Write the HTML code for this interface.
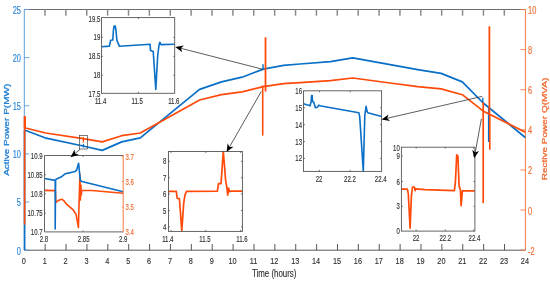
<!DOCTYPE html>
<html><head><meta charset="utf-8"><title>Active and reactive power</title>
<style>
html,body{margin:0;padding:0;background:#fff;}
body{width:550px;height:282px;overflow:hidden;}
svg{display:block;font-family:"Liberation Sans",Arial,Helvetica,sans-serif;}
</style></head><body>
<svg width="550" height="282" viewBox="0 0 550 282">
<rect width="550" height="282" fill="#fff"/>
<line x1="24.30" y1="9.50" x2="525.40" y2="9.50" stroke="#6c6c6c" stroke-width="1.1"/>
<line x1="24.30" y1="250.20" x2="525.40" y2="250.20" stroke="#444" stroke-width="0.9"/>
<text transform="translate(23.80,263.50) scale(0.77,1)" font-size="9.5" fill="#303030" stroke="#303030" stroke-width="0.15" text-anchor="middle" >0</text>
<line x1="45.18" y1="250.20" x2="45.18" y2="244.00" stroke="#444" stroke-width="0.9"/>
<line x1="44.98" y1="9.50" x2="44.98" y2="15.70" stroke="#8a8a8a" stroke-width="1.5"/>
<text transform="translate(44.68,263.50) scale(0.77,1)" font-size="9.5" fill="#303030" stroke="#303030" stroke-width="0.15" text-anchor="middle" >1</text>
<line x1="66.06" y1="250.20" x2="66.06" y2="244.00" stroke="#444" stroke-width="0.9"/>
<line x1="65.86" y1="9.50" x2="65.86" y2="15.70" stroke="#8a8a8a" stroke-width="1.5"/>
<text transform="translate(65.56,263.50) scale(0.77,1)" font-size="9.5" fill="#303030" stroke="#303030" stroke-width="0.15" text-anchor="middle" >2</text>
<line x1="86.94" y1="250.20" x2="86.94" y2="244.00" stroke="#444" stroke-width="0.9"/>
<line x1="86.74" y1="9.50" x2="86.74" y2="15.70" stroke="#8a8a8a" stroke-width="1.5"/>
<text transform="translate(86.44,263.50) scale(0.77,1)" font-size="9.5" fill="#303030" stroke="#303030" stroke-width="0.15" text-anchor="middle" >3</text>
<line x1="107.82" y1="250.20" x2="107.82" y2="244.00" stroke="#444" stroke-width="0.9"/>
<line x1="107.62" y1="9.50" x2="107.62" y2="15.70" stroke="#8a8a8a" stroke-width="1.5"/>
<text transform="translate(107.32,263.50) scale(0.77,1)" font-size="9.5" fill="#303030" stroke="#303030" stroke-width="0.15" text-anchor="middle" >4</text>
<line x1="128.70" y1="250.20" x2="128.70" y2="244.00" stroke="#444" stroke-width="0.9"/>
<line x1="128.50" y1="9.50" x2="128.50" y2="15.70" stroke="#8a8a8a" stroke-width="1.5"/>
<text transform="translate(128.20,263.50) scale(0.77,1)" font-size="9.5" fill="#303030" stroke="#303030" stroke-width="0.15" text-anchor="middle" >5</text>
<line x1="149.57" y1="250.20" x2="149.57" y2="244.00" stroke="#444" stroke-width="0.9"/>
<line x1="149.38" y1="9.50" x2="149.38" y2="15.70" stroke="#8a8a8a" stroke-width="1.5"/>
<text transform="translate(149.07,263.50) scale(0.77,1)" font-size="9.5" fill="#303030" stroke="#303030" stroke-width="0.15" text-anchor="middle" >6</text>
<line x1="170.45" y1="250.20" x2="170.45" y2="244.00" stroke="#444" stroke-width="0.9"/>
<line x1="170.25" y1="9.50" x2="170.25" y2="15.70" stroke="#8a8a8a" stroke-width="1.5"/>
<text transform="translate(169.95,263.50) scale(0.77,1)" font-size="9.5" fill="#303030" stroke="#303030" stroke-width="0.15" text-anchor="middle" >7</text>
<line x1="191.33" y1="250.20" x2="191.33" y2="244.00" stroke="#444" stroke-width="0.9"/>
<line x1="191.13" y1="9.50" x2="191.13" y2="15.70" stroke="#8a8a8a" stroke-width="1.5"/>
<text transform="translate(190.83,263.50) scale(0.77,1)" font-size="9.5" fill="#303030" stroke="#303030" stroke-width="0.15" text-anchor="middle" >8</text>
<line x1="212.21" y1="250.20" x2="212.21" y2="244.00" stroke="#444" stroke-width="0.9"/>
<line x1="212.01" y1="9.50" x2="212.01" y2="15.70" stroke="#8a8a8a" stroke-width="1.5"/>
<text transform="translate(211.71,263.50) scale(0.77,1)" font-size="9.5" fill="#303030" stroke="#303030" stroke-width="0.15" text-anchor="middle" >9</text>
<line x1="233.09" y1="250.20" x2="233.09" y2="244.00" stroke="#444" stroke-width="0.9"/>
<line x1="232.89" y1="9.50" x2="232.89" y2="15.70" stroke="#8a8a8a" stroke-width="1.5"/>
<text transform="translate(232.59,263.50) scale(0.77,1)" font-size="9.5" fill="#303030" stroke="#303030" stroke-width="0.15" text-anchor="middle" >10</text>
<line x1="253.97" y1="250.20" x2="253.97" y2="244.00" stroke="#444" stroke-width="0.9"/>
<line x1="253.77" y1="9.50" x2="253.77" y2="15.70" stroke="#8a8a8a" stroke-width="1.5"/>
<text transform="translate(253.47,263.50) scale(0.77,1)" font-size="9.5" fill="#303030" stroke="#303030" stroke-width="0.15" text-anchor="middle" >11</text>
<line x1="274.85" y1="250.20" x2="274.85" y2="244.00" stroke="#444" stroke-width="0.9"/>
<line x1="274.65" y1="9.50" x2="274.65" y2="15.70" stroke="#8a8a8a" stroke-width="1.5"/>
<text transform="translate(274.35,263.50) scale(0.77,1)" font-size="9.5" fill="#303030" stroke="#303030" stroke-width="0.15" text-anchor="middle" >12</text>
<line x1="295.73" y1="250.20" x2="295.73" y2="244.00" stroke="#444" stroke-width="0.9"/>
<line x1="295.53" y1="9.50" x2="295.53" y2="15.70" stroke="#8a8a8a" stroke-width="1.5"/>
<text transform="translate(295.23,263.50) scale(0.77,1)" font-size="9.5" fill="#303030" stroke="#303030" stroke-width="0.15" text-anchor="middle" >13</text>
<line x1="316.61" y1="250.20" x2="316.61" y2="244.00" stroke="#444" stroke-width="0.9"/>
<line x1="316.41" y1="9.50" x2="316.41" y2="15.70" stroke="#8a8a8a" stroke-width="1.5"/>
<text transform="translate(316.11,263.50) scale(0.77,1)" font-size="9.5" fill="#303030" stroke="#303030" stroke-width="0.15" text-anchor="middle" >14</text>
<line x1="337.49" y1="250.20" x2="337.49" y2="244.00" stroke="#444" stroke-width="0.9"/>
<line x1="337.29" y1="9.50" x2="337.29" y2="15.70" stroke="#8a8a8a" stroke-width="1.5"/>
<text transform="translate(336.99,263.50) scale(0.77,1)" font-size="9.5" fill="#303030" stroke="#303030" stroke-width="0.15" text-anchor="middle" >15</text>
<line x1="358.37" y1="250.20" x2="358.37" y2="244.00" stroke="#444" stroke-width="0.9"/>
<line x1="358.17" y1="9.50" x2="358.17" y2="15.70" stroke="#8a8a8a" stroke-width="1.5"/>
<text transform="translate(357.87,263.50) scale(0.77,1)" font-size="9.5" fill="#303030" stroke="#303030" stroke-width="0.15" text-anchor="middle" >16</text>
<line x1="379.25" y1="250.20" x2="379.25" y2="244.00" stroke="#444" stroke-width="0.9"/>
<line x1="379.05" y1="9.50" x2="379.05" y2="15.70" stroke="#8a8a8a" stroke-width="1.5"/>
<text transform="translate(378.75,263.50) scale(0.77,1)" font-size="9.5" fill="#303030" stroke="#303030" stroke-width="0.15" text-anchor="middle" >17</text>
<line x1="400.12" y1="250.20" x2="400.12" y2="244.00" stroke="#444" stroke-width="0.9"/>
<line x1="399.93" y1="9.50" x2="399.93" y2="15.70" stroke="#8a8a8a" stroke-width="1.5"/>
<text transform="translate(399.62,263.50) scale(0.77,1)" font-size="9.5" fill="#303030" stroke="#303030" stroke-width="0.15" text-anchor="middle" >18</text>
<line x1="421.00" y1="250.20" x2="421.00" y2="244.00" stroke="#444" stroke-width="0.9"/>
<line x1="420.80" y1="9.50" x2="420.80" y2="15.70" stroke="#8a8a8a" stroke-width="1.5"/>
<text transform="translate(420.50,263.50) scale(0.77,1)" font-size="9.5" fill="#303030" stroke="#303030" stroke-width="0.15" text-anchor="middle" >19</text>
<line x1="441.88" y1="250.20" x2="441.88" y2="244.00" stroke="#444" stroke-width="0.9"/>
<line x1="441.68" y1="9.50" x2="441.68" y2="15.70" stroke="#8a8a8a" stroke-width="1.5"/>
<text transform="translate(441.38,263.50) scale(0.77,1)" font-size="9.5" fill="#303030" stroke="#303030" stroke-width="0.15" text-anchor="middle" >20</text>
<line x1="462.76" y1="250.20" x2="462.76" y2="244.00" stroke="#444" stroke-width="0.9"/>
<line x1="462.56" y1="9.50" x2="462.56" y2="15.70" stroke="#8a8a8a" stroke-width="1.5"/>
<text transform="translate(462.26,263.50) scale(0.77,1)" font-size="9.5" fill="#303030" stroke="#303030" stroke-width="0.15" text-anchor="middle" >21</text>
<line x1="483.64" y1="250.20" x2="483.64" y2="244.00" stroke="#444" stroke-width="0.9"/>
<line x1="483.44" y1="9.50" x2="483.44" y2="15.70" stroke="#8a8a8a" stroke-width="1.5"/>
<text transform="translate(483.14,263.50) scale(0.77,1)" font-size="9.5" fill="#303030" stroke="#303030" stroke-width="0.15" text-anchor="middle" >22</text>
<line x1="504.52" y1="250.20" x2="504.52" y2="244.00" stroke="#444" stroke-width="0.9"/>
<line x1="504.32" y1="9.50" x2="504.32" y2="15.70" stroke="#8a8a8a" stroke-width="1.5"/>
<text transform="translate(504.02,263.50) scale(0.77,1)" font-size="9.5" fill="#303030" stroke="#303030" stroke-width="0.15" text-anchor="middle" >23</text>
<text transform="translate(524.90,263.50) scale(0.77,1)" font-size="9.5" fill="#303030" stroke="#303030" stroke-width="0.15" text-anchor="middle" >24</text>
<line x1="24.30" y1="9.50" x2="24.30" y2="250.20" stroke="#589ee0" stroke-width="1.0"/>
<line x1="24.30" y1="250.20" x2="29.30" y2="250.20" stroke="#589ee0" stroke-width="0.9"/>
<text transform="translate(21.00,254.60) scale(0.73,1)" font-size="10.2" fill="#2a86d8" stroke="#2a86d8" stroke-width="0.15" text-anchor="end" >0</text>
<line x1="24.30" y1="202.06" x2="29.30" y2="202.06" stroke="#589ee0" stroke-width="0.9"/>
<text transform="translate(21.00,206.46) scale(0.73,1)" font-size="10.2" fill="#2a86d8" stroke="#2a86d8" stroke-width="0.15" text-anchor="end" >5</text>
<line x1="24.30" y1="153.92" x2="29.30" y2="153.92" stroke="#589ee0" stroke-width="0.9"/>
<text transform="translate(21.00,158.32) scale(0.73,1)" font-size="10.2" fill="#2a86d8" stroke="#2a86d8" stroke-width="0.15" text-anchor="end" >10</text>
<line x1="24.30" y1="105.78" x2="29.30" y2="105.78" stroke="#589ee0" stroke-width="0.9"/>
<text transform="translate(21.00,110.18) scale(0.73,1)" font-size="10.2" fill="#2a86d8" stroke="#2a86d8" stroke-width="0.15" text-anchor="end" >15</text>
<line x1="24.30" y1="57.64" x2="29.30" y2="57.64" stroke="#589ee0" stroke-width="0.9"/>
<text transform="translate(21.00,62.04) scale(0.73,1)" font-size="10.2" fill="#2a86d8" stroke="#2a86d8" stroke-width="0.15" text-anchor="end" >20</text>
<line x1="24.30" y1="9.50" x2="29.30" y2="9.50" stroke="#589ee0" stroke-width="0.9"/>
<text transform="translate(21.00,13.90) scale(0.73,1)" font-size="10.2" fill="#2a86d8" stroke="#2a86d8" stroke-width="0.15" text-anchor="end" >25</text>
<line x1="525.40" y1="9.50" x2="525.40" y2="250.20" stroke="#f47a45" stroke-width="1.0"/>
<line x1="520.40" y1="250.20" x2="525.40" y2="250.20" stroke="#f47a45" stroke-width="0.9"/>
<text transform="translate(528.00,254.70) scale(0.73,1)" font-size="10.2" fill="#f26a2e" stroke="#f26a2e" stroke-width="0.15" text-anchor="start" >-2</text>
<line x1="520.40" y1="210.08" x2="525.40" y2="210.08" stroke="#f47a45" stroke-width="0.9"/>
<text transform="translate(528.00,214.58) scale(0.73,1)" font-size="10.2" fill="#f26a2e" stroke="#f26a2e" stroke-width="0.15" text-anchor="start" >0</text>
<line x1="520.40" y1="169.97" x2="525.40" y2="169.97" stroke="#f47a45" stroke-width="0.9"/>
<text transform="translate(528.00,174.47) scale(0.73,1)" font-size="10.2" fill="#f26a2e" stroke="#f26a2e" stroke-width="0.15" text-anchor="start" >2</text>
<line x1="520.40" y1="129.85" x2="525.40" y2="129.85" stroke="#f47a45" stroke-width="0.9"/>
<text transform="translate(528.00,134.35) scale(0.73,1)" font-size="10.2" fill="#f26a2e" stroke="#f26a2e" stroke-width="0.15" text-anchor="start" >4</text>
<line x1="520.40" y1="89.73" x2="525.40" y2="89.73" stroke="#f47a45" stroke-width="0.9"/>
<text transform="translate(528.00,94.23) scale(0.73,1)" font-size="10.2" fill="#f26a2e" stroke="#f26a2e" stroke-width="0.15" text-anchor="start" >6</text>
<line x1="520.40" y1="49.62" x2="525.40" y2="49.62" stroke="#f47a45" stroke-width="0.9"/>
<text transform="translate(528.00,54.12) scale(0.73,1)" font-size="10.2" fill="#f26a2e" stroke="#f26a2e" stroke-width="0.15" text-anchor="start" >8</text>
<line x1="520.40" y1="9.50" x2="525.40" y2="9.50" stroke="#f47a45" stroke-width="0.9"/>
<text transform="translate(528.00,14.00) scale(0.73,1)" font-size="10.2" fill="#f26a2e" stroke="#f26a2e" stroke-width="0.15" text-anchor="start" >10</text>
<text transform="translate(274.20,277.00) scale(0.79,1)" font-size="10" fill="#303030" stroke="#303030" stroke-width="0.15" text-anchor="middle" >Time (hours)</text>
<text transform="translate(9.4,129.8) scale(0.8,1) rotate(-90)" font-size="10" fill="#1f7fd4" stroke="#1f7fd4" stroke-width="0.35" text-anchor="middle">Active Power P(MW)</text>
<text transform="translate(547.0,129.0) scale(0.8,1) rotate(-90)" font-size="10" fill="#f26a2e" stroke="#f26a2e" stroke-width="0.35" text-anchor="middle">Rective Power Q(MVA)</text>
<polyline points="24.5,130.0 44.9,137.8 83.0,146.0 102.2,150.4 121.7,141.9 140.3,137.8 199.6,89.4 221.5,81.9 242.1,77.2 263.4,69.1 283.6,65.3 300.0,64.0 330.4,61.6 352.8,57.8 417.7,69.6 441.1,73.4 462.3,81.9 483.2,103.0 525.3,137.5" fill="none" stroke="#0a6fc6" stroke-width="1.7" stroke-linejoin="round" stroke-linecap="butt" />
<polyline points="24.6,250.0 24.6,130.0" fill="none" stroke="#0a6fc6" stroke-width="1.7" stroke-linejoin="round" stroke-linecap="butt" />
<polyline points="263.0,69.3 263.0,64.2" fill="none" stroke="#0a6fc6" stroke-width="1.4" stroke-linejoin="round" stroke-linecap="butt" />
<polyline points="482.8,103.0 482.8,97.8" fill="none" stroke="#0a6fc6" stroke-width="1.4" stroke-linejoin="round" stroke-linecap="butt" />
<polyline points="488.6,107.0 488.6,142.0" fill="none" stroke="#0a6fc6" stroke-width="1.4" stroke-linejoin="round" stroke-linecap="butt" />
<polyline points="83.4,144.0 83.4,147.5" fill="none" stroke="#0a6fc6" stroke-width="1.2" stroke-linejoin="round" stroke-linecap="butt" />
<polyline points="24.5,127.7 45.7,133.0 83.0,138.7 102.2,141.9 121.7,135.7 140.3,133.0 199.6,100.0 221.5,94.7 242.1,91.9 263.4,86.6 283.6,83.6 300.0,82.6 330.4,80.7 352.8,78.0 390.0,83.0 417.7,86.6 441.1,88.9 462.3,94.7 483.0,110.9 525.3,132.2" fill="none" stroke="#ff4a0a" stroke-width="1.7" stroke-linejoin="round" stroke-linecap="butt" />
<polyline points="24.6,116.0 24.6,224.6" fill="none" stroke="#ff4a0a" stroke-width="1.6" stroke-linejoin="round" stroke-linecap="butt" />
<polyline points="24.9,116.5 24.9,128.0" fill="none" stroke="#ff4a0a" stroke-width="2.2" stroke-linejoin="round" stroke-linecap="butt" />
<polyline points="262.7,85.5 262.7,135.6" fill="none" stroke="#ff4a0a" stroke-width="1.6" stroke-linejoin="round" stroke-linecap="butt" />
<polyline points="265.5,91.5 265.5,37.3" fill="none" stroke="#ff4a0a" stroke-width="1.8" stroke-linejoin="round" stroke-linecap="butt" />
<polyline points="483.2,102.2 483.2,203.1" fill="none" stroke="#ff4a0a" stroke-width="1.7" stroke-linejoin="round" stroke-linecap="butt" />
<polyline points="489.4,115.0 489.4,26.3" fill="none" stroke="#ff4a0a" stroke-width="1.8" stroke-linejoin="round" stroke-linecap="butt" />
<polyline points="489.8,115.0 489.8,149.8" fill="none" stroke="#ff4a0a" stroke-width="1.6" stroke-linejoin="round" stroke-linecap="butt" />
<polyline points="83.4,136.9 83.4,142.5" fill="none" stroke="#ff4a0a" stroke-width="1.2" stroke-linejoin="round" stroke-linecap="butt" />
<rect x="79.4" y="135.4" width="8.2" height="13.6" fill="none" stroke="#444" stroke-width="0.7"/>
<rect x="101.5" y="17.6" width="73.2" height="75.7" fill="#fff"/>
<polyline points="101.5,46.7 109.4,46.1 110.6,40.3 112.8,40.0 113.5,29.5 114.2,26.0 115.2,26.0 115.9,29.5 116.9,40.3 117.8,42.7 119.5,46.3 150.1,44.3 150.5,50.4 153.2,51.4 155.8,89.4 157.7,55.5 159.0,45.3 159.8,42.2 161.0,44.6 174.5,44.2" fill="none" stroke="#0a6fc6" stroke-width="1.6" stroke-linejoin="round" stroke-linecap="butt" />
<rect x="101.5" y="17.6" width="73.20" height="75.70" fill="none" stroke="#555" stroke-width="0.9"/>
<line x1="138.40" y1="93.30" x2="138.40" y2="91.80" stroke="#555" stroke-width="0.8"/>
<line x1="138.40" y1="17.60" x2="138.40" y2="19.10" stroke="#555" stroke-width="0.8"/>
<line x1="101.50" y1="37.30" x2="103.00" y2="37.30" stroke="#555" stroke-width="0.8"/>
<line x1="174.70" y1="37.30" x2="173.20" y2="37.30" stroke="#555" stroke-width="0.8"/>
<line x1="101.50" y1="56.30" x2="103.00" y2="56.30" stroke="#555" stroke-width="0.8"/>
<line x1="174.70" y1="56.30" x2="173.20" y2="56.30" stroke="#555" stroke-width="0.8"/>
<line x1="101.50" y1="75.20" x2="103.00" y2="75.20" stroke="#555" stroke-width="0.8"/>
<line x1="174.70" y1="75.20" x2="173.20" y2="75.20" stroke="#555" stroke-width="0.8"/>
<text transform="translate(100.30,21.50) scale(0.71,1)" font-size="8.5" fill="#303030" stroke="#303030" stroke-width="0.15" text-anchor="end" >19.5</text>
<text transform="translate(100.30,40.30) scale(0.71,1)" font-size="8.5" fill="#303030" stroke="#303030" stroke-width="0.15" text-anchor="end" >19</text>
<text transform="translate(100.30,59.30) scale(0.71,1)" font-size="8.5" fill="#303030" stroke="#303030" stroke-width="0.15" text-anchor="end" >18.5</text>
<text transform="translate(100.30,78.20) scale(0.71,1)" font-size="8.5" fill="#303030" stroke="#303030" stroke-width="0.15" text-anchor="end" >18</text>
<text transform="translate(100.30,96.50) scale(0.71,1)" font-size="8.5" fill="#303030" stroke="#303030" stroke-width="0.15" text-anchor="end" >17.5</text>
<text transform="translate(100.60,103.90) scale(0.71,1)" font-size="8.5" fill="#303030" stroke="#303030" stroke-width="0.15" text-anchor="middle" >11.4</text>
<text transform="translate(137.20,103.90) scale(0.71,1)" font-size="8.5" fill="#303030" stroke="#303030" stroke-width="0.15" text-anchor="middle" >11.5</text>
<text transform="translate(173.80,103.90) scale(0.71,1)" font-size="8.5" fill="#303030" stroke="#303030" stroke-width="0.15" text-anchor="middle" >11.6</text>
<rect x="168.5" y="151.5" width="74" height="79.9" fill="#fff"/>
<polyline points="168.5,191.3 176.3,191.3 177.2,198.5 179.4,198.5 181.8,230.7 183.7,203.1 185.0,194.8 186.5,191.3 217.4,191.2 218.5,183.7 221.0,183.7 223.3,151.5 224.5,166.0 225.6,180.1 226.8,187.2 227.7,195.2 228.6,188.1 229.5,191.7 230.2,191.2 242.4,191.2" fill="none" stroke="#ff4a0a" stroke-width="1.7" stroke-linejoin="round" stroke-linecap="butt" />
<rect x="168.5" y="151.5" width="73.90" height="79.90" fill="none" stroke="#555" stroke-width="0.9"/>
<line x1="171.10" y1="231.40" x2="171.10" y2="229.90" stroke="#555" stroke-width="0.8"/>
<line x1="171.10" y1="151.50" x2="171.10" y2="153.00" stroke="#555" stroke-width="0.8"/>
<line x1="205.80" y1="231.40" x2="205.80" y2="229.90" stroke="#555" stroke-width="0.8"/>
<line x1="205.80" y1="151.50" x2="205.80" y2="153.00" stroke="#555" stroke-width="0.8"/>
<line x1="240.60" y1="231.40" x2="240.60" y2="229.90" stroke="#555" stroke-width="0.8"/>
<line x1="240.60" y1="151.50" x2="240.60" y2="153.00" stroke="#555" stroke-width="0.8"/>
<line x1="168.50" y1="161.30" x2="170.00" y2="161.30" stroke="#555" stroke-width="0.8"/>
<line x1="242.40" y1="161.30" x2="240.90" y2="161.30" stroke="#555" stroke-width="0.8"/>
<line x1="168.50" y1="177.70" x2="170.00" y2="177.70" stroke="#555" stroke-width="0.8"/>
<line x1="242.40" y1="177.70" x2="240.90" y2="177.70" stroke="#555" stroke-width="0.8"/>
<line x1="168.50" y1="194.00" x2="170.00" y2="194.00" stroke="#555" stroke-width="0.8"/>
<line x1="242.40" y1="194.00" x2="240.90" y2="194.00" stroke="#555" stroke-width="0.8"/>
<line x1="168.50" y1="210.50" x2="170.00" y2="210.50" stroke="#555" stroke-width="0.8"/>
<line x1="242.40" y1="210.50" x2="240.90" y2="210.50" stroke="#555" stroke-width="0.8"/>
<line x1="168.50" y1="226.80" x2="170.00" y2="226.80" stroke="#555" stroke-width="0.8"/>
<line x1="242.40" y1="226.80" x2="240.90" y2="226.80" stroke="#555" stroke-width="0.8"/>
<text transform="translate(166.30,164.30) scale(0.71,1)" font-size="8.5" fill="#303030" stroke="#303030" stroke-width="0.15" text-anchor="end" >8</text>
<text transform="translate(166.30,180.70) scale(0.71,1)" font-size="8.5" fill="#303030" stroke="#303030" stroke-width="0.15" text-anchor="end" >7</text>
<text transform="translate(166.30,197.00) scale(0.71,1)" font-size="8.5" fill="#303030" stroke="#303030" stroke-width="0.15" text-anchor="end" >6</text>
<text transform="translate(166.30,213.50) scale(0.71,1)" font-size="8.5" fill="#303030" stroke="#303030" stroke-width="0.15" text-anchor="end" >5</text>
<text transform="translate(166.30,229.80) scale(0.71,1)" font-size="8.5" fill="#303030" stroke="#303030" stroke-width="0.15" text-anchor="end" >4</text>
<text transform="translate(167.80,241.90) scale(0.71,1)" font-size="8.5" fill="#303030" stroke="#303030" stroke-width="0.15" text-anchor="middle" >11.4</text>
<text transform="translate(205.00,241.90) scale(0.71,1)" font-size="8.5" fill="#303030" stroke="#303030" stroke-width="0.15" text-anchor="middle" >11.5</text>
<text transform="translate(241.90,241.90) scale(0.71,1)" font-size="8.5" fill="#303030" stroke="#303030" stroke-width="0.15" text-anchor="middle" >11.6</text>
<rect x="44.5" y="155.5" width="78.8" height="76.4" fill="#fff"/>
<polyline points="44.5,190.4 55.4,190.6 55.9,202.5 58.2,200.6 61.8,199.2 63.7,200.6 66.5,204.2 73.4,210.2 76.1,214.4 78.4,227.4 79.9,174.4 80.4,200.0 80.9,185.0 81.3,195.0 81.7,190.2 92.0,190.5 123.2,193.3" fill="none" stroke="#ff4a0a" stroke-width="1.6" stroke-linejoin="round" stroke-linecap="butt" />
<polyline points="44.5,178.5 55.2,180.4 55.2,229.0 55.6,180.0 56.0,179.3 61.0,177.1 65.1,173.8 70.6,172.6 75.2,171.4 76.7,169.9 78.6,163.2 79.7,174.4 80.4,180.4 81.9,181.5 92.0,184.1 123.2,191.8" fill="none" stroke="#0a6fc6" stroke-width="1.6" stroke-linejoin="round" stroke-linecap="butt" />
<path d="M123.2,155.5H44.5V231.9H123.2" fill="none" stroke="#555" stroke-width="0.9"/>
<line x1="83.10" y1="231.90" x2="83.10" y2="230.40" stroke="#555" stroke-width="0.8"/>
<line x1="83.10" y1="155.50" x2="83.10" y2="157.00" stroke="#555" stroke-width="0.8"/>
<line x1="44.50" y1="174.80" x2="46.00" y2="174.80" stroke="#555" stroke-width="0.8"/>
<line x1="44.50" y1="194.00" x2="46.00" y2="194.00" stroke="#555" stroke-width="0.8"/>
<line x1="44.50" y1="213.10" x2="46.00" y2="213.10" stroke="#555" stroke-width="0.8"/>
<line x1="123.20" y1="156.70" x2="121.70" y2="156.70" stroke="#f47a45" stroke-width="0.8"/>
<line x1="123.20" y1="181.60" x2="121.70" y2="181.60" stroke="#f47a45" stroke-width="0.8"/>
<line x1="123.20" y1="206.90" x2="121.70" y2="206.90" stroke="#f47a45" stroke-width="0.8"/>
<line x1="123.20" y1="155.05" x2="123.20" y2="232.35" stroke="#f47a45" stroke-width="1.0"/>
<text transform="translate(42.60,158.60) scale(0.71,1)" font-size="8.5" fill="#303030" stroke="#303030" stroke-width="0.15" text-anchor="end" >10.9</text>
<text transform="translate(42.60,177.80) scale(0.71,1)" font-size="8.5" fill="#303030" stroke="#303030" stroke-width="0.15" text-anchor="end" >10.85</text>
<text transform="translate(42.60,197.00) scale(0.71,1)" font-size="8.5" fill="#303030" stroke="#303030" stroke-width="0.15" text-anchor="end" >10.8</text>
<text transform="translate(42.60,216.10) scale(0.71,1)" font-size="8.5" fill="#303030" stroke="#303030" stroke-width="0.15" text-anchor="end" >10.75</text>
<text transform="translate(42.60,235.20) scale(0.71,1)" font-size="8.5" fill="#303030" stroke="#303030" stroke-width="0.15" text-anchor="end" >10.7</text>
<text transform="translate(125.50,159.70) scale(0.71,1)" font-size="8.5" fill="#f26a2e" stroke="#f26a2e" stroke-width="0.15" text-anchor="start" >3.7</text>
<text transform="translate(125.50,184.60) scale(0.71,1)" font-size="8.5" fill="#f26a2e" stroke="#f26a2e" stroke-width="0.15" text-anchor="start" >3.6</text>
<text transform="translate(125.50,209.90) scale(0.71,1)" font-size="8.5" fill="#f26a2e" stroke="#f26a2e" stroke-width="0.15" text-anchor="start" >3.5</text>
<text transform="translate(125.50,235.20) scale(0.71,1)" font-size="8.5" fill="#f26a2e" stroke="#f26a2e" stroke-width="0.15" text-anchor="start" >3.4</text>
<text transform="translate(44.00,242.00) scale(0.71,1)" font-size="8.5" fill="#303030" stroke="#303030" stroke-width="0.15" text-anchor="middle" >2.8</text>
<text transform="translate(83.70,242.00) scale(0.71,1)" font-size="8.5" fill="#303030" stroke="#303030" stroke-width="0.15" text-anchor="middle" >2.85</text>
<text transform="translate(123.20,242.00) scale(0.71,1)" font-size="8.5" fill="#303030" stroke="#303030" stroke-width="0.15" text-anchor="middle" >2.9</text>
<rect x="303.5" y="90.8" width="78.1" height="80.6" fill="#fff"/>
<polyline points="303.5,103.8 310.1,105.7 311.1,101.9 311.6,95.5 312.2,95.5 312.5,101.4 313.7,101.9 315.4,107.7 317.3,107.2 318.8,105.1 319.7,105.7 358.9,112.8 359.7,116.6 363.3,171.2 364.8,115.3 366.1,106.4 367.1,111.5 367.9,112.8 381.6,116.6" fill="none" stroke="#0a6fc6" stroke-width="1.6" stroke-linejoin="round" stroke-linecap="butt" />
<rect x="303.5" y="90.8" width="78.10" height="80.60" fill="none" stroke="#555" stroke-width="0.9"/>
<line x1="319.40" y1="171.40" x2="319.40" y2="169.90" stroke="#555" stroke-width="0.8"/>
<line x1="319.40" y1="90.80" x2="319.40" y2="92.30" stroke="#555" stroke-width="0.8"/>
<line x1="350.20" y1="171.40" x2="350.20" y2="169.90" stroke="#555" stroke-width="0.8"/>
<line x1="350.20" y1="90.80" x2="350.20" y2="92.30" stroke="#555" stroke-width="0.8"/>
<line x1="303.50" y1="107.70" x2="305.00" y2="107.70" stroke="#555" stroke-width="0.8"/>
<line x1="381.60" y1="107.70" x2="380.10" y2="107.70" stroke="#555" stroke-width="0.8"/>
<line x1="303.50" y1="124.70" x2="305.00" y2="124.70" stroke="#555" stroke-width="0.8"/>
<line x1="381.60" y1="124.70" x2="380.10" y2="124.70" stroke="#555" stroke-width="0.8"/>
<line x1="303.50" y1="141.60" x2="305.00" y2="141.60" stroke="#555" stroke-width="0.8"/>
<line x1="381.60" y1="141.60" x2="380.10" y2="141.60" stroke="#555" stroke-width="0.8"/>
<line x1="303.50" y1="158.40" x2="305.00" y2="158.40" stroke="#555" stroke-width="0.8"/>
<line x1="381.60" y1="158.40" x2="380.10" y2="158.40" stroke="#555" stroke-width="0.8"/>
<text transform="translate(302.00,93.60) scale(0.71,1)" font-size="8.5" fill="#303030" stroke="#303030" stroke-width="0.15" text-anchor="end" >16</text>
<text transform="translate(302.00,110.70) scale(0.71,1)" font-size="8.5" fill="#303030" stroke="#303030" stroke-width="0.15" text-anchor="end" >15</text>
<text transform="translate(302.00,127.70) scale(0.71,1)" font-size="8.5" fill="#303030" stroke="#303030" stroke-width="0.15" text-anchor="end" >14</text>
<text transform="translate(302.00,144.60) scale(0.71,1)" font-size="8.5" fill="#303030" stroke="#303030" stroke-width="0.15" text-anchor="end" >13</text>
<text transform="translate(302.00,161.40) scale(0.71,1)" font-size="8.5" fill="#303030" stroke="#303030" stroke-width="0.15" text-anchor="end" >12</text>
<text transform="translate(319.10,182.40) scale(0.71,1)" font-size="8.5" fill="#303030" stroke="#303030" stroke-width="0.15" text-anchor="middle" >22</text>
<text transform="translate(349.90,182.40) scale(0.71,1)" font-size="8.5" fill="#303030" stroke="#303030" stroke-width="0.15" text-anchor="middle" >22.2</text>
<text transform="translate(380.70,182.40) scale(0.71,1)" font-size="8.5" fill="#303030" stroke="#303030" stroke-width="0.15" text-anchor="middle" >22.4</text>
<rect x="401.4" y="147.2" width="73.4" height="83.8" fill="#fff"/>
<polyline points="401.4,189.2 407.4,189.2 408.3,193.8 410.1,228.3 411.4,195.7 412.5,187.0 414.4,187.0 415.1,190.7 415.7,188.9 425.0,189.6 454.4,190.6 455.4,182.2 456.7,154.9 457.9,156.2 459.1,185.9 460.4,189.7 461.1,205.8 462.4,190.9 474.8,190.9" fill="none" stroke="#ff4a0a" stroke-width="1.7" stroke-linejoin="round" stroke-linecap="butt" />
<rect x="401.4" y="147.2" width="73.50" height="83.90" fill="none" stroke="#555" stroke-width="0.9"/>
<line x1="416.20" y1="231.10" x2="416.20" y2="229.60" stroke="#555" stroke-width="0.8"/>
<line x1="416.20" y1="147.20" x2="416.20" y2="148.70" stroke="#555" stroke-width="0.8"/>
<line x1="445.30" y1="231.10" x2="445.30" y2="229.60" stroke="#555" stroke-width="0.8"/>
<line x1="445.30" y1="147.20" x2="445.30" y2="148.70" stroke="#555" stroke-width="0.8"/>
<line x1="473.60" y1="231.10" x2="473.60" y2="229.60" stroke="#555" stroke-width="0.8"/>
<line x1="473.60" y1="147.20" x2="473.60" y2="148.70" stroke="#555" stroke-width="0.8"/>
<line x1="401.40" y1="156.00" x2="402.90" y2="156.00" stroke="#555" stroke-width="0.8"/>
<line x1="474.90" y1="156.00" x2="473.40" y2="156.00" stroke="#555" stroke-width="0.8"/>
<line x1="401.40" y1="181.50" x2="402.90" y2="181.50" stroke="#555" stroke-width="0.8"/>
<line x1="474.90" y1="181.50" x2="473.40" y2="181.50" stroke="#555" stroke-width="0.8"/>
<line x1="401.40" y1="206.30" x2="402.90" y2="206.30" stroke="#555" stroke-width="0.8"/>
<line x1="474.90" y1="206.30" x2="473.40" y2="206.30" stroke="#555" stroke-width="0.8"/>
<text transform="translate(399.80,151.10) scale(0.71,1)" font-size="8.5" fill="#303030" stroke="#303030" stroke-width="0.15" text-anchor="end" >10</text>
<text transform="translate(399.80,159.00) scale(0.71,1)" font-size="8.5" fill="#303030" stroke="#303030" stroke-width="0.15" text-anchor="end" >9</text>
<text transform="translate(399.80,184.50) scale(0.71,1)" font-size="8.5" fill="#303030" stroke="#303030" stroke-width="0.15" text-anchor="end" >6</text>
<text transform="translate(399.80,209.30) scale(0.71,1)" font-size="8.5" fill="#303030" stroke="#303030" stroke-width="0.15" text-anchor="end" >3</text>
<text transform="translate(399.80,234.40) scale(0.71,1)" font-size="8.5" fill="#303030" stroke="#303030" stroke-width="0.15" text-anchor="end" >0</text>
<text transform="translate(416.00,241.20) scale(0.71,1)" font-size="8.5" fill="#303030" stroke="#303030" stroke-width="0.15" text-anchor="middle" >22</text>
<text transform="translate(445.30,241.20) scale(0.71,1)" font-size="8.5" fill="#303030" stroke="#303030" stroke-width="0.15" text-anchor="middle" >22.2</text>
<text transform="translate(474.40,241.20) scale(0.71,1)" font-size="8.5" fill="#303030" stroke="#303030" stroke-width="0.15" text-anchor="middle" >22.4</text>
<line x1="262.50" y1="69.20" x2="180.92" y2="48.34" stroke="#333" stroke-width="0.8"/>
<polygon points="175.30,46.90 183.89,45.59 180.92,48.34 182.21,52.18" fill="#000"/>
<line x1="261.30" y1="91.40" x2="229.48" y2="146.97" stroke="#333" stroke-width="0.8"/>
<polygon points="226.60,152.00 227.62,143.37 229.48,146.97 233.53,146.75" fill="#000"/>
<line x1="80.00" y1="149.30" x2="75.04" y2="153.47" stroke="#333" stroke-width="0.8"/>
<polygon points="70.60,157.20 74.54,149.45 75.04,153.47 78.91,154.66" fill="#000"/>
<line x1="482.20" y1="96.40" x2="387.15" y2="118.30" stroke="#333" stroke-width="0.8"/>
<polygon points="381.50,119.60 388.53,114.49 387.15,118.30 390.06,121.12" fill="#000"/>
<line x1="481.40" y1="118.80" x2="475.24" y2="152.49" stroke="#333" stroke-width="0.8"/>
<polygon points="474.20,158.20 472.29,149.72 475.24,152.49 478.98,150.94" fill="#000"/>
</svg>
</body></html>
